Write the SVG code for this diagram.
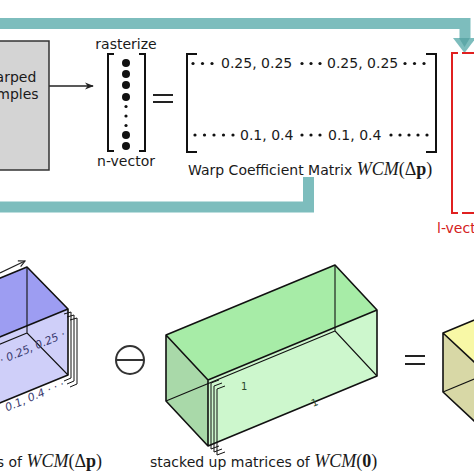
<svg xmlns="http://www.w3.org/2000/svg" width="474" height="474" viewBox="0 0 474 474">
<defs>
<style>
.t{font-family:"DejaVu Sans",sans-serif;font-size:14px;fill:#1a1a1a}
.m{font-family:"Liberation Serif",serif;font-size:18px;fill:#1a1a1a}
.i{font-style:italic}
.b{font-weight:bold}
.br{fill:none;stroke:#111;stroke-width:2}
.e{fill:none;stroke:#111;stroke-width:1.6;stroke-linejoin:round}
.h{fill:none;stroke:#111;stroke-width:1.1}
.s{fill:none;stroke:#111;stroke-width:1}
.band{fill:none;stroke:#7dbdbd;stroke-width:11;stroke-linejoin:miter}
.dot{fill:#111}
</style>
<marker id="ah" viewBox="0 0 10 10" refX="9" refY="5" markerWidth="9" markerHeight="9" markerUnits="userSpaceOnUse" orient="auto">
<path d="M0,1 L10,5 L0,9 L3,5 Z" fill="#222"/>
</marker>
<marker id="ao" viewBox="0 0 10 10" refX="9" refY="5" markerWidth="8" markerHeight="8" markerUnits="userSpaceOnUse" orient="auto">
<path d="M1,1 L9,5 L1,9" fill="none" stroke="#222" stroke-width="1.4"/>
</marker>
</defs>
<rect width="474" height="474" fill="#fff"/>

<g id="connectors">
<path class="band" d="M-6,23.5 H465 V39"/>
<polygon points="453,38 476,38 464.5,53" fill="#7dbdbd"/>
<polygon points="459,38 470,38 464.5,47" fill="#5ea8a8"/>
<path class="band" d="M308.5,177 V207 H-6"/>
<line x1="43" y1="86" x2="93" y2="86" stroke="#222" stroke-width="1.4" marker-end="url(#ah)"/>
</g>

<g id="warped-samples">
<rect x="-6" y="41" width="55" height="129" fill="#d4d4d4" stroke="#333" stroke-width="1.5"/>
<text class="t" x="9.5" y="82" text-anchor="middle">Warped</text>
<text class="t" x="9.5" y="99" text-anchor="middle">samples</text>
</g>

<g id="n-vector">
<text class="t" x="126" y="49" text-anchor="middle">rasterize</text>
<path class="br" d="M114,54 H108 V151 H114"/>
<path class="br" d="M139,54 H145 V151 H139"/>
<circle class="dot" cx="126" cy="63" r="4"/>
<circle class="dot" cx="126" cy="74" r="4"/>
<circle class="dot" cx="126" cy="85" r="4"/>
<circle class="dot" cx="126" cy="97" r="4"/>
<circle class="dot" cx="126" cy="106.5" r="1.6"/>
<circle class="dot" cx="126" cy="116" r="1.6"/>
<circle class="dot" cx="126" cy="125.5" r="1.6"/>
<circle class="dot" cx="126" cy="135" r="4"/>
<circle class="dot" cx="126" cy="146" r="4"/>
<text class="t" x="126" y="166" text-anchor="middle">n-vector</text>
</g>

<g id="equals-top">
<line x1="153" y1="95" x2="173" y2="95" stroke="#222" stroke-width="2"/>
<line x1="153" y1="102" x2="173" y2="102" stroke="#222" stroke-width="2"/>
</g>

<g id="wcm-matrix">
<path class="br" d="M197,54 H187 V152 H197"/>
<path class="br" d="M426,54 H436 V152 H426"/>
<g class="dot">
<circle cx="193" cy="63.5" r="1.6"/><circle cx="202.5" cy="63.5" r="1.6"/><circle cx="212" cy="63.5" r="1.6"/>
<circle cx="302" cy="63.5" r="1.6"/><circle cx="311" cy="63.5" r="1.6"/><circle cx="320" cy="63.5" r="1.6"/>
<circle cx="405" cy="63.5" r="1.6"/><circle cx="414.5" cy="63.5" r="1.6"/><circle cx="424" cy="63.5" r="1.6"/>
<circle cx="195" cy="135" r="1.6"/><circle cx="204.5" cy="135" r="1.6"/><circle cx="214" cy="135" r="1.6"/><circle cx="223.5" cy="135" r="1.6"/><circle cx="233" cy="135" r="1.6"/>
<circle cx="302" cy="135" r="1.6"/><circle cx="311" cy="135" r="1.6"/><circle cx="320" cy="135" r="1.6"/>
<circle cx="391" cy="135" r="1.6"/><circle cx="400" cy="135" r="1.6"/><circle cx="409" cy="135" r="1.6"/><circle cx="418" cy="135" r="1.6"/><circle cx="427" cy="135" r="1.6"/>
</g>
<text class="t" x="221" y="68">0.25, 0.25</text>
<text class="t" x="327" y="68">0.25, 0.25</text>
<text class="t" x="240" y="140">0.1, 0.4</text>
<text class="t" x="328" y="140">0.1, 0.4</text>
<text x="188" y="175"><tspan class="t">Warp Coefficient Matrix </tspan><tspan class="m i">WCM</tspan><tspan class="m">(Δ</tspan><tspan class="m b">p</tspan><tspan class="m">)</tspan></text>
</g>

<g id="l-vector">
<path d="M474,53 H452 V213 H474" fill="none" stroke="#e02020" stroke-width="2" stroke-dasharray="12,4"/>
<line x1="452" y1="53" x2="452" y2="213" stroke="#e02020" stroke-width="2"/>
<text class="t" x="437" y="233" style="fill:#d42020">l-vector</text>
</g>

<g id="cube-wcm-dp">
<polygon points="-73,308 27,267 68,309 -32,350" fill="#9d9df2"/>
<polygon points="-32,350 68,309 68,375 -32,416" fill="#cfcff9"/>
<path class="h" d="M27,267 V333 L68,375 M-73,374 L27,333"/>
<path class="e" d="M-73,308 L27,267 L68,309 L-32,350 M68,309 V375 L-32,416"/>
<path class="s" d="M64,314 L71,312 V378 L64,381 M67,317 L74,315 V381 L67,384 M70,320 L77,318 V384 L70,387"/>
<line x1="0" y1="273" x2="25" y2="261" stroke="#222" stroke-width="1.2" marker-end="url(#ao)"/>
<text transform="translate(66,337) rotate(-23)" text-anchor="end" style="font-family:'DejaVu Sans',sans-serif;font-size:11px;font-style:italic;fill:#3b3b70">· 0.25, 0.25 ·</text>
<text transform="translate(65,387) rotate(-23)" text-anchor="end" style="font-family:'DejaVu Sans',sans-serif;font-size:11px;font-style:italic;fill:#3b3b70">0.1, 0.4 · · ·</text>
</g>

<g id="ominus">
<circle cx="130" cy="360" r="14" fill="none" stroke="#333" stroke-width="2"/>
<line x1="116" y1="360" x2="144" y2="360" stroke="#333" stroke-width="2"/>
</g>

<g id="cube-wcm-0">
<polygon points="166,335 335,265 377,310 208,380" fill="#a7eca7"/>
<polygon points="208,380 377,310 377,376 208,446" fill="#cdf7cd"/>
<polygon points="166,335 208,380 208,446 166,401" fill="#a9d9a9"/>
<path class="h" d="M335,265 V331 L377,376 M166,401 L335,331"/>
<path class="e" d="M166,335 L335,265 L377,310 L208,380 Z M208,380 V446 L377,376 V310 M166,335 V401 L208,446"/>
<path class="s" d="M219,380 L211,383 V449 L219,446 M222,383 L214,386 V452 L222,449 M225,386 L217,389 V455 L225,452"/>
<text x="241" y="390" style="font-family:'DejaVu Sans',sans-serif;font-size:10px;fill:#2a4a2a">1</text>
<text transform="translate(313,407) rotate(-23)" style="font-family:'DejaVu Sans',sans-serif;font-size:10px;fill:#2a4a2a">1</text>
</g>

<g id="equals-bottom">
<line x1="405" y1="356" x2="425" y2="356" stroke="#222" stroke-width="2"/>
<line x1="405" y1="364" x2="425" y2="364" stroke="#222" stroke-width="2"/>
</g>

<g id="cube-result">
<polygon points="443,333 612,263 657,305 488,375" fill="#f8f8a6"/>
<polygon points="443,333 488,375 488,434 443,392" fill="#d8d8a6"/>
<path class="h" d="M443,392 L612,322"/>
<path class="e" d="M612,263 L443,333 L488,375 M443,333 V392 L488,434"/>
</g>

<g id="labels">
<text x="102" y="467" text-anchor="end"><tspan class="t">stacked up matrices of </tspan><tspan class="m i">WCM</tspan><tspan class="m">(Δ</tspan><tspan class="m b">p</tspan><tspan class="m">)</tspan></text>
<text x="150" y="467"><tspan class="t">stacked up matrices of </tspan><tspan class="m i">WCM</tspan><tspan class="m">(</tspan><tspan class="m b">0</tspan><tspan class="m">)</tspan></text>
</g>
</svg>
